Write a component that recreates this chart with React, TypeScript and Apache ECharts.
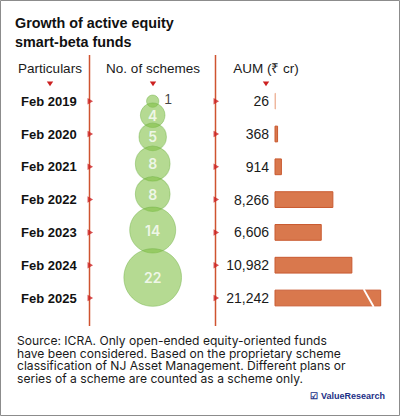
import { useEffect, useRef } from "react";
import * as echarts from "echarts";

// Rows of the table
const periods = ["Feb 2019", "Feb 2020", "Feb 2021", "Feb 2022", "Feb 2023", "Feb 2024", "Feb 2025"];
// Number of active equity smart-beta schemes
const schemes = [1, 4, 5, 8, 8, 14, 22];
// Assets under management, ₹ crore
const aum = [26, 368, 914, 8266, 6606, 10982, 21242];

const headers = ["Particulars", "No. of schemes", "AUM (₹ cr)"];
const titleLines = ["Growth of active equity", "smart-beta funds"];
const noteLines = [
  "Source: ICRA. Only open-ended equity-oriented funds",
  "have been considered. Based on the proprietary scheme",
  "classification of NJ Asset Management. Different plans or",
  "series of a scheme are counted as a scheme only.",
];
const brand = "☑ ValueResearch";

const FONT = "'Liberation Sans', Arial, sans-serif";
const NOTE_FONT = "Inter, 'Noto Sans', sans-serif";
const TITLE_WIDTH = 159; // first title line is sized to span this many pixels
const BAR_BREAK = 15100; // longer bars are cut here and drawn with a break mark
const ROW_TOP = 84.8;
const ROW_H = 32.8;
const BUBBLE_K = 6.15; // bubble radius per square root of scheme count
const BUBBLE_OVERLAP = 4.4; // stacked bubbles overlap by this many pixels
const BUBBLE_X = 152.7;
const LINE_X = [89.5, 215.5];

const radius = (v: number) => BUBBLE_K * Math.sqrt(v);

// Bubbles are stacked downwards from the first row; centres in row units
function bubbleCentres(): number[] {
  const out: number[] = [];
  schemes.forEach((v, i) => {
    if (i === 0) out.push(0);
    else out.push(out[i - 1] + (radius(schemes[i - 1]) + radius(v) - BUBBLE_OVERLAP) / ROW_H);
  });
  return out;
}

function fitTitleSize(): number {
  const ctx = document.createElement("canvas").getContext("2d");
  if (!ctx) return 15.5;
  ctx.font = `bold 16px ${FONT}`;
  const w = ctx.measureText(titleLines[0]).width;
  if (!w) return 15.5;
  return Math.min(18, Math.max(13, (16 * TITLE_WIDTH) / w));
}

const fmt = (v: number) => v.toLocaleString("en-US");

export default function App() {
  const ref = useRef<HTMLDivElement>(null);

  useEffect(() => {
    if (!ref.current) return;
    const chart = echarts.init(ref.current, undefined, { renderer: "svg" });
    const centres = bubbleCentres();
    const titleSize = fitTitleSize();

    const headerX = [50, 153, 266];
    const lineColor = "#cf5330";
    const markColor = "#cc2020";

    const option: echarts.EChartsOption = {
      animation: false,
      backgroundColor: "#ffffff",
      title: {
        text: titleLines.join("\n"),
        left: 15,
        top: 14,
        padding: 0,
        textStyle: { fontFamily: FONT, fontSize: titleSize, fontWeight: "bold", color: "#111", lineHeight: 18.5 },
      },
      grid: [
        { left: 275, top: ROW_TOP, width: 112, height: ROW_H * periods.length },
        { left: 0, top: ROW_TOP, width: 400, height: ROW_H * periods.length },
      ],
      xAxis: [
        { type: "value", gridIndex: 0, min: 0, max: 16000, show: false },
        { type: "value", gridIndex: 1, min: 0, max: 400, show: false },
      ],
      yAxis: [
        {
          type: "category",
          gridIndex: 0,
          data: periods,
          inverse: true,
          axisLine: { show: false },
          axisTick: { show: false },
          splitLine: { show: false },
          axisLabel: {
            margin: 275 - 21,
            align: "left",
            fontFamily: FONT,
            fontSize: 13,
            fontWeight: "bold",
            color: "#111",
          },
        },
        { type: "value", gridIndex: 1, min: -0.5, max: periods.length - 0.5, inverse: true, show: false },
      ],
      series: [
        {
          type: "custom",
          xAxisIndex: 0,
          yAxisIndex: 0,
          data: aum.map((v, i) => [v, i]),
          encode: { x: 0, y: 1 },
          renderItem: (params: any, api: any) => {
            const v = api.value(0);
            const idx = api.value(1);
            const shown = Math.min(v, BAR_BREAK);
            const start = api.coord([0, idx]);
            const end = api.coord([shown, idx]);
            const h = api.size([0, 1])[1] * 0.48;
            const top = start[1] - h / 2;
            const w = Math.max(end[0] - start[0], 0.4);
            const children: any[] = [
              {
                type: "rect",
                shape: { x: start[0], y: top, width: w, height: h },
                style: { fill: "#d9784d", stroke: w < 2 ? "#efb59a" : "#c95a30", lineWidth: w < 2 ? 0.8 : 1 },
              },
              {
                type: "text",
                x: start[0] - 6,
                y: start[1],
                style: {
                  text: fmt(v),
                  align: "right",
                  verticalAlign: "middle",
                  fill: "#1a1a1a",
                  fontFamily: FONT,
                  fontSize: 14,
                },
              },
            ];
            if (v > BAR_BREAK) {
              children.push({
                type: "line",
                shape: { x1: end[0] - 17, y1: top - 1, x2: end[0] - 7, y2: top + h + 1 },
                style: { stroke: "#ffffff", lineWidth: 2 },
              });
            }
            return { type: "group", children };
          },
        },
        {
          type: "scatter",
          xAxisIndex: 1,
          yAxisIndex: 1,
          silent: true,
          data: schemes.map((v, i) => ({
            value: [BUBBLE_X, centres[i], v],
            symbolSize: 2 * radius(v),
            label:
              v < 2
                ? { show: true, position: "right", distance: 5, color: "#111", fontSize: 14, fontFamily: FONT, offset: [0, -2] }
                : { show: true, position: "inside", color: "#ffffff", fontSize: 14, fontWeight: 600, fontFamily: NOTE_FONT },
          })),
          label: { formatter: (p: any) => String(p.value[2]) },
          itemStyle: { color: "rgba(126,190,66,0.72)", borderColor: "rgba(100,170,55,0.5)", borderWidth: 1 },
          z: 3,
        },
        {
          type: "scatter",
          xAxisIndex: 1,
          yAxisIndex: 1,
          silent: true,
          symbol: "triangle",
          symbolRotate: -90,
          symbolSize: [6.5, 5.5],
          itemStyle: { color: markColor },
          data: periods.flatMap((_, i) => LINE_X.map((x) => [x + 0.8, i])),
          z: 5,
        },
      ],
      graphic: [
        {
          type: "rect",
          shape: { x: 0.5, y: 0.5, width: 399, height: 415 },
          style: { fill: "none", stroke: "#8c8c8c", lineWidth: 1 },
          silent: true,
        },
        ...LINE_X.map((x) => ({
          type: "line",
          shape: { x1: x, y1: 55, x2: x, y2: 326 },
          style: { stroke: lineColor, lineWidth: 1.5 },
          silent: true,
          z: 1,
        })),
        ...headers.map((t, i) => ({
          type: "text",
          x: headerX[i],
          y: 68.6,
          style: {
            text: t,
            align: "center",
            verticalAlign: "middle",
            fill: "#1a1a1a",
            fontFamily: FONT,
            fontSize: 13.5,
          },
          silent: true,
        })),
        ...headerX.map((x) => ({
          type: "polygon",
          shape: { points: [[x - 3.2, 81.5], [x + 3.2, 81.5], [x, 86.2]] },
          style: { fill: markColor },
          silent: true,
        })),
        // Footnote, one text element per line
        ...noteLines.map((t, i) => ({
          type: "text",
          x: 17,
          y: 340.7 + i * 12.45,
          style: {
            text: t,
            fill: "#1a1a1a",
            fontFamily: NOTE_FONT,
            fontSize: 12.1,
            verticalAlign: "middle",
          },
          silent: true,
        })),
        {
          type: "text",
          x: 385,
          y: 396,
          style: {
            text: brand,
            align: "right",
            verticalAlign: "middle",
            fill: "#1c2f86",
            fontFamily: FONT,
            fontSize: 9,
            fontWeight: "bold",
          },
          silent: true,
        },
      ],
    };

    chart.setOption(option);
    return () => chart.dispose();
  }, []);

  return (
    <div
      ref={ref}
      style={{ position: "absolute", left: 0, top: 0, width: 400, height: 416, background: "#fff" }}
    />
  );
}
